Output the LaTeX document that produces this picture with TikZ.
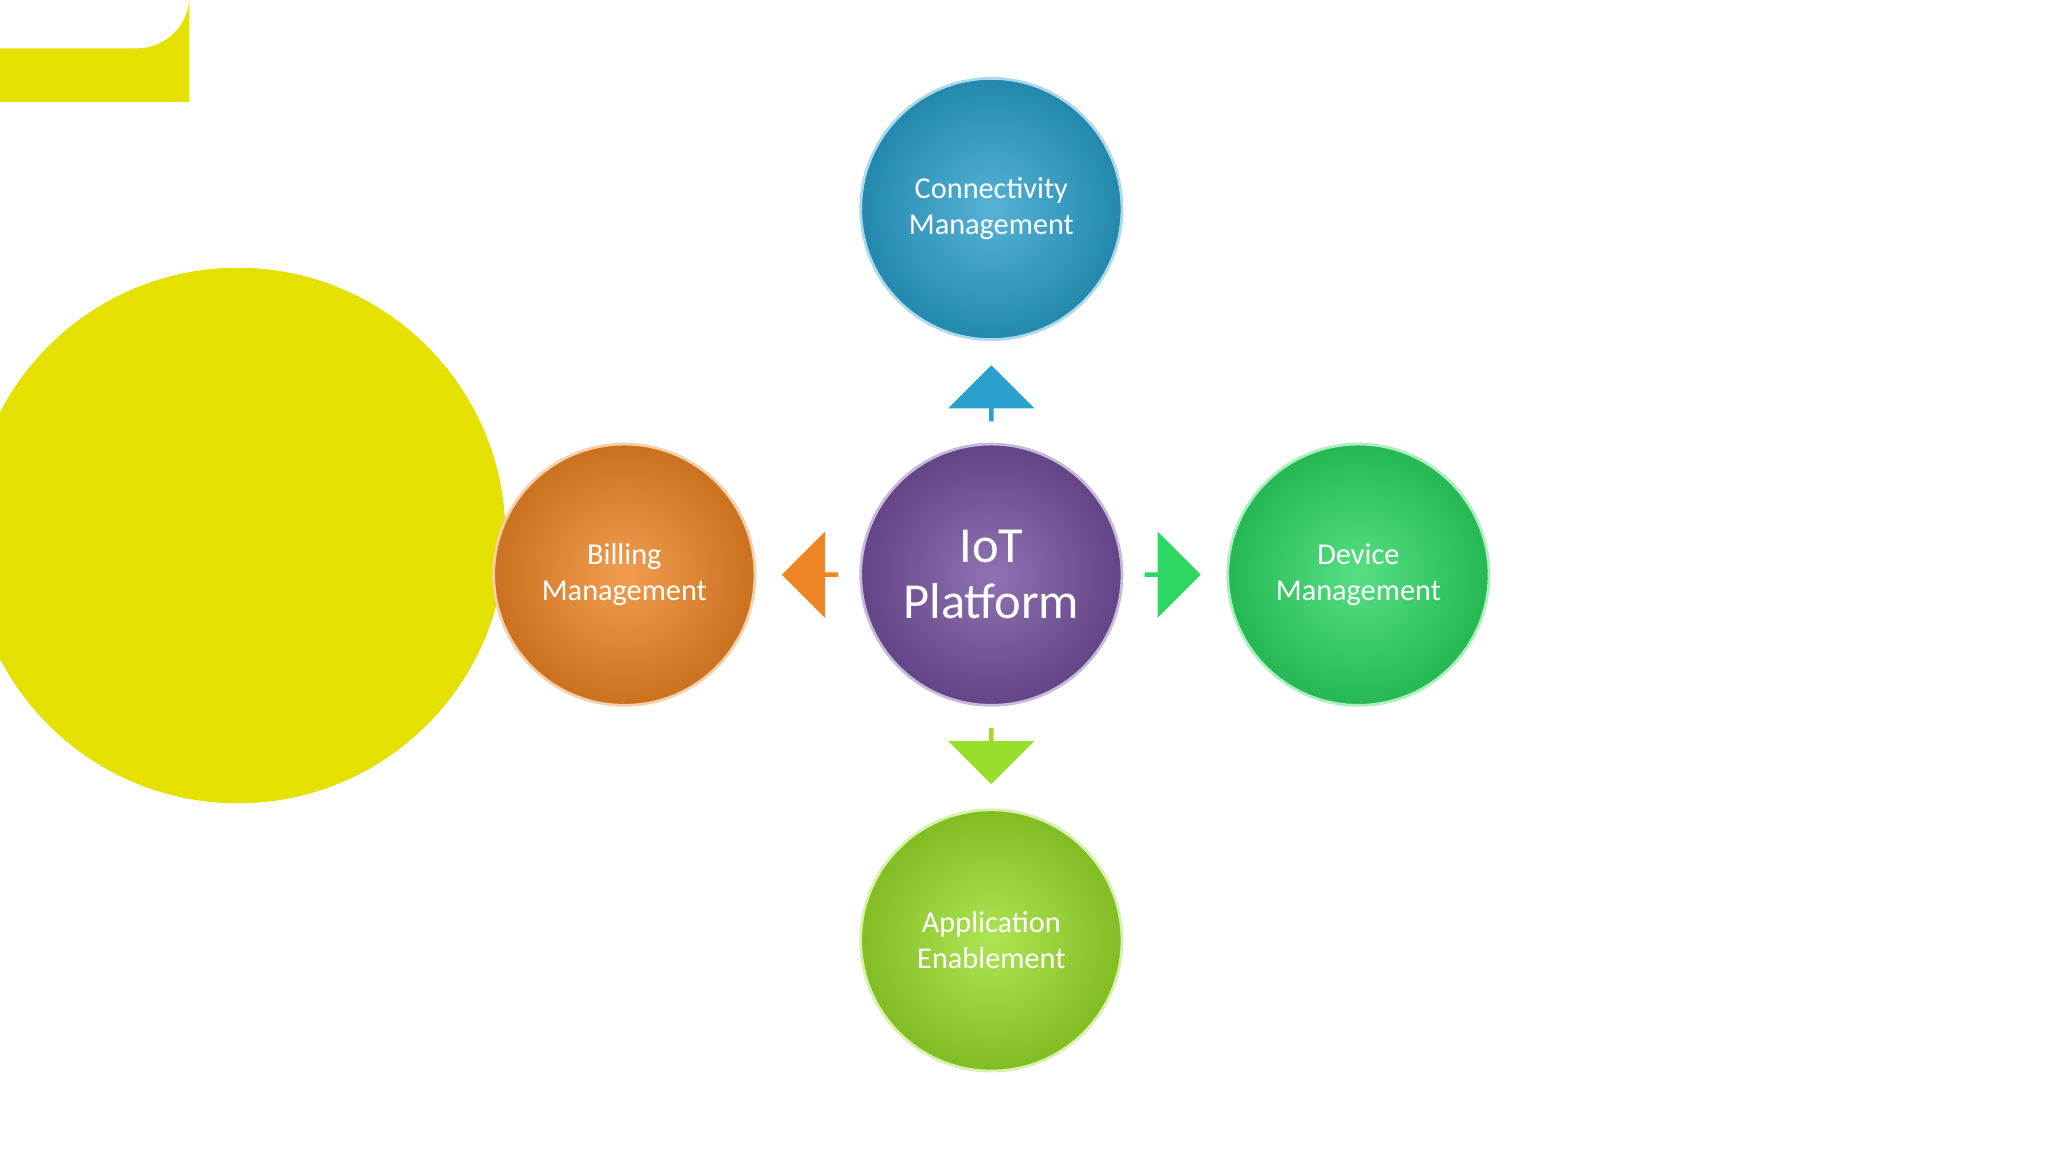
\documentclass[tikz,border=0pt]{standalone}
\usepackage{fontspec}
\setmainfont{Carlito}
\usetikzlibrary{shapes.arrows}
\definecolor{ylw}{HTML}{E4E000}
\definecolor{cblue}{HTML}{2AA0CC}
\definecolor{cpurp}{HTML}{74509F}
\definecolor{corg}{HTML}{EE8524}
\definecolor{cgrn}{HTML}{2CD862}
\definecolor{clime}{HTML}{99DE2A}
\tikzset{
  bub/.style={circle, minimum size=20mm, inner sep=0pt, draw=#1!40!white, line width=0.6pt,
    inner color=#1!80!white, outer color=#1!85!black, text=white, align=center,
    font=\fontsize{6.6pt}{7.8pt}\selectfont},
  arr/.style={single arrow, fill=#1, draw=none, inner sep=0pt, minimum height=4.3mm,
    minimum width=6.6mm, single arrow head extend=1.3mm, single arrow head indent=0pt}
}
\begin{document}
\begin{tikzpicture}[x=0.1mm,y=-0.1mm]
\useasboundingbox (0,0) rectangle (1568,882);
\fill[white] (0,0) rectangle (1568,882);
\begin{scope}
\clip (0,0) rectangle (1568,882);
\fill[ylw] (182,410) circle (205);
\fill[ylw] (0,78) -- (0,37) -- (105,37) arc[start angle=90,end angle=0,radius=40] -- (145,78) -- cycle;
\end{scope}
\node[bub=cpurp, font=\fontsize{11pt}{12.3pt}\selectfont] (iot) at (759,440) {IoT\\Platform};
\node[bub=cblue] (con) at (759,160) {Connectivity\\Management};
\node[bub=corg] (bil) at (478,440) {Billing\\Management};
\node[bub=cgrn] (dev) at (1040,440) {Device\\Management};
\node[bub=clime] (app) at (759,720) {Application\\Enablement};
\node[arr=cblue, shape border rotate=90] (au) at (759,302) {};
\node[arr=corg, shape border rotate=180] (al) at (621,440) {};
\node[arr=cgrn, shape border rotate=0] (ar) at (897,440) {};
\node[arr=clime, shape border rotate=270] (ad) at (759,578) {};
\end{tikzpicture}
\end{document}
